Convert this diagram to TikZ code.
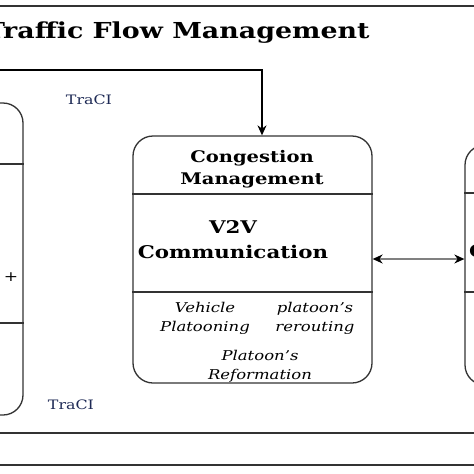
\documentclass[tikz,border=0pt]{standalone}
\usepackage{fontspec}
\setmainfont{DejaVu Serif}[FakeStretch=1.22]
\usetikzlibrary{arrows.meta}
\definecolor{edge}{HTML}{333333}
\definecolor{traci}{HTML}{1E2A55}
\tikzset{
  box/.style={draw=edge, line width=1.3pt, rounded corners=20pt, inner sep=0pt},
  divider/.style={draw=edge, line width=1.1pt},
  frame/.style={draw=edge, line width=1.3pt},
  lbl/.style={inner sep=0pt, align=center},
  head/.style={lbl, font=\fontsize{16}{22}\selectfont\bfseries},
  big/.style={lbl, font=\fontsize{17.5}{25}\selectfont\bfseries},
  ital/.style={lbl, font=\fontsize{13.5}{19}\selectfont\itshape},
  tr/.style={lbl, text=traci, font=\fontsize{13}{15}\selectfont},
  conn/.style={draw=black, line width=1.2pt, -{Stealth[length=10pt,width=9pt]}},
}
\begin{document}
\begin{tikzpicture}[x=1pt,y=-1pt]
\useasboundingbox (0,0) rectangle (474,474);
\clip (0,0) rectangle (474,474);
\fill[white] (0,0) rectangle (474,474);
% frame lines
\draw[frame] (-5,6) -- (480,6);
\draw[frame] (-5,433) -- (480,433);
\draw[frame] (-5,465) -- (480,465);
% title
\node[lbl, anchor=base west, font=\fontsize{22}{24}\selectfont\bfseries] (title) at (-15,38) {Traffic Flow Management};
% boxes
\node[box, minimum width=123pt, minimum height=312pt] (lb) at (-38.5,259) {};
\node[box, minimum width=239pt, minimum height=247pt] (cm) at (252.5,259.5) {};
\node[box, minimum width=120pt, minimum height=240pt] (rb) at (525,265) {};
% dividers
\draw[divider] (lb.west |- 0,164) -- (lb.east |- 0,164);
\draw[divider] (lb.west |- 0,323) -- (lb.east |- 0,323);
\draw[divider] (cm.west |- 0,194) -- (cm.east |- 0,194);
\draw[divider] (cm.west |- 0,292) -- (cm.east |- 0,292);
\draw[divider] (rb.west |- 0,193) -- (rb.east |- 0,193);
\draw[divider] (rb.west |- 0,292) -- (rb.east |- 0,292);
% texts
\node[lbl, font=\fontsize{14}{14}\selectfont] (plus) at (11,277) {+};
\node[head] (cong) at (252,169) {Congestion\\Management};
\node[big, anchor=center] (v2v) at (233,240) {V2V\\Communication};
\node[ital] (veh) at (205,318) {Vehicle\\Platooning};
\node[ital] (rer) at (315,318) {platoon's\\rerouting};
\node[ital] (ref) at (260,366) {Platoon's\\Reformation};
\node[big, anchor=west] (rc) at (469,251) {C};
\node[tr] (tr1) at (89,100) {TraCI};
\node[tr] (tr2) at (71,405) {TraCI};
% connectors
\coordinate (tin) at (-5,70);
\draw[conn] (tin) -| ([xshift=9.5pt]cm.north);
\draw[draw=gray, line width=1.3pt, {Stealth[black,length=10pt,width=9pt]}-{Stealth[black,length=10pt,width=9pt]}] (cm.east |- 0,259) -- (rb.west |- 0,259);
\end{tikzpicture}
\end{document}
